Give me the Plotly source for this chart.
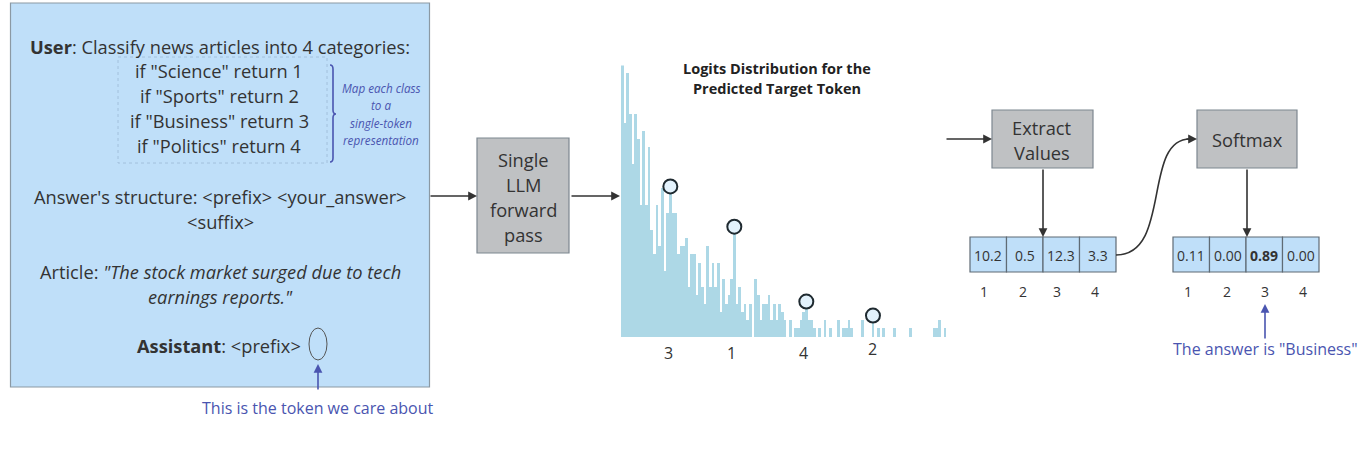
import plotly.graph_objects as go

# histogram of logits, counts per token bin
bin_counts = [33, 26, 32, 27, 21, 27, 24, 16, 25, 16, 23, 13, 10, 16, 11, 18, 8, 15, 18, 15,
              15, 10, 11, 11, 12, 6, 10, 10, 5, 9, 6, 4, 11, 6, 9, 6, 9, 3, 7, 4,
              5, 7, 13, 4, 6, 3, 4, 2, 4, 0, 7, 5, 2, 4, 4, 5, 2, 4, 2, 4,
              3, 2, 0, 2, 0, 1, 1, 2, 3, 4, 2, 2, 1, 0, 1, 0, 2, 0, 1, 0,
              0, 2, 0, 1, 1, 2, 1, 0, 0, 0, 2, 0, 0, 0, 2, 0, 1, 0, 1, 0,
              0, 0, 1, 0, 0, 0, 0, 0, 1, 0, 0, 0, 0, 0, 0, 0, 0, 1, 1, 2,
              0, 1]
bin_index = list(range(len(bin_counts)))

# the four class tokens picked out on the histogram
class_bins = [18, 42, 69, 94]
class_heights = [18.3, 13.4, 4.3, 2.6]
class_labels = ['3', '1', '4', '2']

extract_values = ['10.2', '0.5', '12.3', '3.3']
softmax_values = ['0.11', '0.00', '<b>0.89</b>', '0.00']
slot_labels = ['1', '2', '3', '4']

FONT = 'Open Sans'
DARK = '#333333'
BLUE = '#4a55b0'
BOX_BLUE = '#bfdff9'
GREY = '#bfc1c3'
EDGE = '#7d8790'

fig = go.Figure()

# invisible trace so the pixel canvas axes exist
fig.add_trace(go.Scatter(x=[0, 1364], y=[0, 449], mode='none', showlegend=False, hoverinfo='skip'))

fig.add_trace(go.Bar(x=bin_index, y=bin_counts, xaxis='x2', yaxis='y2', width=1,
                     marker=dict(color='#add8e6', line=dict(width=0)), showlegend=False))

fig.add_trace(go.Scatter(x=class_bins, y=class_heights, xaxis='x2', yaxis='y2', mode='markers',
                         marker=dict(size=14, color='#e3f2fc', line=dict(color='#1f2a30', width=2)),
                         showlegend=False))


def text(x, y, s, size=18.25, color=DARK, anchor='center'):
    fig.add_annotation(x=x, y=y, xref='x', yref='y', text=s, showarrow=False, xanchor=anchor, yanchor='middle',
                       font=dict(family=FONT, size=size, color=color))


def arrow(x0, y0, x1, y1, color=DARK, width=1.6):
    fig.add_annotation(x=x1, y=y1, ax=x0, ay=y0, xref='x', yref='y', axref='x', ayref='y', text='',
                       showarrow=True, arrowhead=2, arrowsize=1.1, arrowwidth=width, arrowcolor=color)


def box(x0, y0, x1, y1, fill, line=EDGE, width=1.2, dash='solid'):
    fig.add_shape(type='rect', xref='x', yref='y', x0=x0, y0=y0, x1=x1, y1=y1, fillcolor=fill,
                  line=dict(color=line, width=width, dash=dash), layer='below')


# prompt box
box(10.5, 3, 429.5, 387, BOX_BLUE, line='#8b99a4')
box(118, 57, 327, 163, 'rgba(0,0,0,0)', line='#9db8d6', width=0.8, dash='dot')
text(220, 46, '<b>User</b>: Classify news articles into 4 categories:')
text(219, 70, 'if "Science" return 1')
text(219, 95, 'if "Sports" return 2')
text(219, 120, 'if "Business" return 3')
text(219, 145, 'if "Politics" return 4')
text(220, 196, "Answer's structure: &lt;prefix&gt; &lt;your_answer&gt;")
text(220, 221, '&lt;suffix&gt;')
text(220, 271, 'Article: <i>"The stock market surged due to tech</i>')
text(220, 296, '<i>earnings reports."</i>')
text(219, 345, '<b>Assistant</b>: &lt;prefix&gt;')

# brace next to the class mapping
fig.add_shape(type='path', xref='x', yref='y', line=dict(color=BLUE, width=1.6),
              path='M 330 65 Q 333 65 333 69 L 333 110 Q 333 114 336 114 Q 333 114 333 118 L 333 158 Q 333 162 330 162')
text(381, 88, '<i>Map each class</i>', size=11.7, color=BLUE)
text(381, 105, '<i>to a</i>', size=11.7, color=BLUE)
text(381, 123, '<i>single-token</i>', size=11.7, color=BLUE)
text(381, 140, '<i>representation</i>', size=11.7, color=BLUE)

fig.add_shape(type='circle', xref='x', yref='y', x0=309, y0=328, x1=327, y1=360, line=dict(color='#555555', width=1))
arrow(318, 391, 318, 364, color=BLUE)
text(318, 408, 'This is the token we care about', size=16, color=BLUE)

# LLM step
arrow(429, 196, 477, 196)
box(477, 138, 569, 253, GREY)
for yy, s in zip([159, 184, 209, 234], ['Single', 'LLM', 'forward', 'pass']):
    text(523, yy, s)
arrow(570, 196, 620, 196)

# histogram title and class labels
text(777, 68, '<b>Logits Distribution for the</b>', size=14.5, color='#222222')
text(777, 88, '<b>Predicted Target Token</b>', size=14.5, color='#222222')
for xx, yy, s in zip([668, 731, 803, 872], [353, 353, 353, 349], class_labels):
    text(xx, yy, s, size=16)

# extract values
arrow(945, 139, 992, 139)
box(992, 110, 1093, 168, GREY)
text(1042, 127, 'Extract')
text(1042, 152, 'Values')
arrow(1043, 168, 1043, 237)

# softmax
box(1197, 110, 1297, 168, GREY)
text(1247, 139, 'Softmax')
arrow(1247, 168, 1247, 237)

fig.add_shape(type='path', xref='x', yref='y', line=dict(color=DARK, width=1.6),
              path='M 1116 255 C 1172 255, 1142 139, 1190 139')
arrow(1185, 139, 1197, 139)

# the two four-slot tables
for left, values, label_x in [(970, extract_values, [984, 1023, 1057, 1095]),
                              (1173, softmax_values, [1188, 1227, 1265, 1303])]:
    for i, v in enumerate(values):
        box(left + i * 36.5, 237, left + (i + 1) * 36.5, 272, BOX_BLUE, line='#5f6b75')
        text(left + (i + 0.5) * 36.5, 255, v, size=14)
        text(label_x[i], 291, slot_labels[i], size=14)

arrow(1265, 340, 1265, 304, color=BLUE)
text(1265, 349, 'The answer is "Business"', size=16, color=BLUE)

fig.update_layout(
    width=1364,
    height=449,
    margin=dict(l=0, r=0, t=0, b=0),
    paper_bgcolor='white',
    plot_bgcolor='rgba(0,0,0,0)',
    bargap=0,
    xaxis=dict(range=[0, 1364], visible=False, domain=[0, 1]),
    yaxis=dict(range=[449, 0], visible=False, domain=[0, 1]),
    xaxis2=dict(range=[-0.5, 121.5], visible=False, domain=[621 / 1364, 946.3 / 1364], anchor='y2'),
    yaxis2=dict(range=[0, 33], visible=False, domain=[112 / 449, 383.6 / 449], anchor='x2'),
)

fig.write_html('out.html', config=dict(displayModeBar=False),
               post_script="document.body.style.margin='0';document.body.style.overflow='hidden';")
